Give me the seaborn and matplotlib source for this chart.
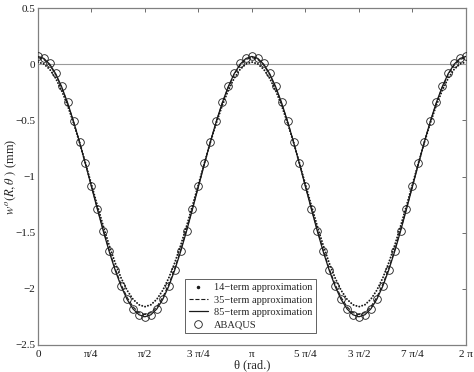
import numpy as np
import pandas as pd
import matplotlib
matplotlib.use('Agg')
import matplotlib.pyplot as plt
from matplotlib.lines import Line2D
import seaborn as sns

# angles in degrees, 5 degree steps over the full circle
theta_deg = np.arange(0, 361, 5)

w_14 = [0.020, 0.003, -0.046, -0.126, -0.235, -0.369, -0.525, -0.697, -0.881, -1.070,
        -1.259, -1.443, -1.615, -1.771, -1.905, -2.014, -2.094, -2.143, -2.160,
        -2.143, -2.094, -2.014, -1.905, -1.771, -1.615, -1.443, -1.259, -1.070,
        -0.881, -0.697, -0.525, -0.369, -0.235, -0.126, -0.046, 0.003, 0.020,
        0.003, -0.046, -0.126, -0.235, -0.369, -0.525, -0.697, -0.881, -1.070,
        -1.259, -1.443, -1.615, -1.771, -1.905, -2.014, -2.094, -2.143, -2.160,
        -2.143, -2.094, -2.014, -1.905, -1.771, -1.615, -1.443, -1.259, -1.070,
        -0.881, -0.697, -0.525, -0.369, -0.235, -0.126, -0.046, 0.003, 0.020]

w_35 = [0.060, 0.043, -0.009, -0.093, -0.208, -0.349, -0.513, -0.693, -0.886, -1.085,
        -1.284, -1.477, -1.658, -1.821, -1.962, -2.077, -2.161, -2.213, -2.230,
        -2.213, -2.161, -2.077, -1.962, -1.821, -1.658, -1.477, -1.284, -1.085,
        -0.886, -0.693, -0.513, -0.349, -0.208, -0.093, -0.009, 0.043, 0.060,
        0.043, -0.009, -0.093, -0.208, -0.349, -0.513, -0.693, -0.886, -1.085,
        -1.284, -1.477, -1.658, -1.821, -1.962, -2.077, -2.161, -2.213, -2.230,
        -2.213, -2.161, -2.077, -1.962, -1.821, -1.658, -1.477, -1.284, -1.085,
        -0.886, -0.693, -0.513, -0.349, -0.208, -0.093, -0.009, 0.043, 0.060]

w_85 = [0.070, 0.052, 0.000, -0.085, -0.201, -0.344, -0.510, -0.693, -0.889, -1.090,
        -1.291, -1.487, -1.670, -1.836, -1.979, -2.095, -2.180, -2.232, -2.250,
        -2.232, -2.180, -2.095, -1.979, -1.836, -1.670, -1.487, -1.291, -1.090,
        -0.889, -0.693, -0.510, -0.344, -0.201, -0.085, 0.000, 0.052, 0.070,
        0.052, 0.000, -0.085, -0.201, -0.344, -0.510, -0.693, -0.889, -1.090,
        -1.291, -1.487, -1.670, -1.836, -1.979, -2.095, -2.180, -2.232, -2.250,
        -2.232, -2.180, -2.095, -1.979, -1.836, -1.670, -1.487, -1.291, -1.090,
        -0.889, -0.693, -0.510, -0.344, -0.201, -0.085, 0.000, 0.052, 0.070]

w_abaqus = [0.075, 0.060, 0.008, -0.078, -0.195, -0.338, -0.505, -0.688, -0.884, -1.085,
            -1.287, -1.484, -1.668, -1.835, -1.978, -2.095, -2.181, -2.234, -2.252,
            -2.234, -2.181, -2.095, -1.978, -1.835, -1.668, -1.484, -1.287, -1.085,
            -0.884, -0.688, -0.505, -0.338, -0.195, -0.078, 0.008, 0.060, 0.075,
            0.060, 0.008, -0.078, -0.195, -0.338, -0.505, -0.688, -0.884, -1.085,
            -1.287, -1.484, -1.668, -1.835, -1.978, -2.095, -2.181, -2.234, -2.252,
            -2.234, -2.181, -2.095, -1.978, -1.835, -1.668, -1.484, -1.287, -1.085,
            -0.884, -0.688, -0.505, -0.338, -0.195, -0.078, 0.008, 0.060, 0.075]

xtick_labels = ['0', 'π/4', 'π/2', '3 π/4', 'π', '5 π/4', '3 π/2', '7 π/4', '2 π']
ytick_vals = [-2.5, -2, -1.5, -1, -0.5, 0, 0.5]
ytick_labels = ['\u22122.5', '\u22122', '\u22121.5', '\u22121', '\u22120.5', '0', '0.5']

sns.set_theme(style='white')
plt.rcParams['font.family'] = ['Liberation Serif', 'DejaVu Serif']
plt.rcParams['mathtext.fontset'] = 'stix'

df = pd.DataFrame({'theta': np.deg2rad(theta_deg), 'w14': w_14, 'w35': w_35,
                   'w85': w_85, 'abaqus': w_abaqus})

fig = plt.figure(figsize=(4.74, 3.72), dpi=100)
ax = fig.add_axes([0.080, 0.073, 0.903, 0.905])

ax.axhline(0, color='#9a9a9a', lw=0.8, zorder=1)

sns.lineplot(data=df, x='theta', y='w14', ax=ax, color='k', lw=1.4,
             linestyle=(0, (0.05, 1.5)), dash_capstyle='round', zorder=3)
sns.lineplot(data=df, x='theta', y='w35', ax=ax, color='k', lw=0.8,
             linestyle='--', zorder=3)
sns.lineplot(data=df, x='theta', y='w85', ax=ax, color='k', lw=0.9, zorder=3)
sns.lineplot(data=df, x='theta', y='abaqus', ax=ax, color='k', linestyle='',
             marker='o', markersize=5.5, markerfacecolor='none',
             markeredgecolor='k', markeredgewidth=0.6, zorder=4)

ax.set_xlim(0, 2 * np.pi)
ax.set_ylim(-2.5, 0.5)
ax.set_xticks(np.arange(9) * np.pi / 4)
ax.set_xticklabels(xtick_labels)
ax.set_yticks(ytick_vals)
ax.set_yticklabels(ytick_labels)
ax.tick_params(direction='in', length=3, width=0.6, color='#555555',
               top=True, right=True, labelsize=8, labelcolor='k')
ax.tick_params(axis='x', pad=4)
ax.tick_params(axis='y', pad=2)
for s in ax.spines.values():
    s.set_color('#808080')
    s.set_linewidth(0.9)

ax.set_xlabel('θ (rad.)', fontsize=9, labelpad=0)
ax.set_ylabel(r'$w^{o}(R,\theta\ )$ (mm)', fontsize=9)
ax.yaxis.set_label_coords(-0.044, 0.5)

handles = [Line2D([], [], color='k', marker='.', ls='none', ms=3),
           Line2D([], [], color='k', ls='--', lw=0.8),
           Line2D([], [], color='k', ls='-', lw=0.9),
           Line2D([], [], color='k', marker='o', ls='none', ms=5.5,
                  mfc='none', mew=0.6)]
labels = ['14\u2212term approximation', '35\u2212term approximation',
          '85\u2212term approximation', 'ABAQUS']
leg = ax.legend(handles, labels, loc='lower center', bbox_to_anchor=(0.497, 0.035),
                fontsize=7.5, frameon=True, fancybox=False, edgecolor='k',
                handlelength=1.8, handletextpad=0.6, borderpad=0.35,
                labelspacing=0.3, borderaxespad=0)
leg.get_frame().set_linewidth(0.6)

fig.savefig('out.png', dpi=100)
